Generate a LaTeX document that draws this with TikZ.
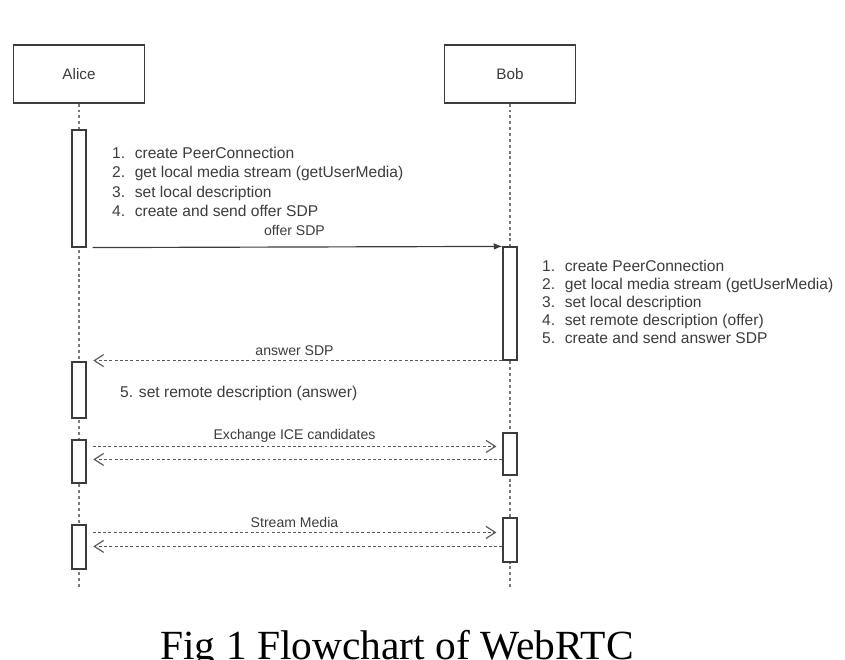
\documentclass[tikz,border=0pt]{standalone}
\usepackage{fontspec}
\setmainfont{Liberation Serif}
\setsansfont{Liberation Sans}
\usetikzlibrary{arrows.meta, positioning}
\definecolor{ink}{HTML}{3C3C3C}
\definecolor{lifegray}{HTML}{7A7A7A}
\tikzset{>={Latex[width=2mm,length=2mm]}}
\tikzset{
  actor/.style = {draw=ink, line width=1.2pt, fill=white, minimum width=3.93cm, minimum height=1.74cm,
                  font=\sffamily\fontsize{13}{15}\selectfont, text=ink},
  act/.style = {draw=ink, line width=1pt, fill=white, minimum width=0.42cm, inner sep=0pt},
  lifeline/.style = {draw=lifegray, line width=1pt, dash pattern=on 2.5pt off 2.5pt},
  call/.style = {color=ink, line width=1pt, shorten <=0.18cm, -{Latex[length=2.6mm,width=2mm]}},
  reply/.style = {color=ink!85, line width=1pt, dash pattern=on 2.5pt off 2pt,
                  -{Straight Barb[length=2.8mm,width=3.6mm]}},
  msg/.style = {above, font=\sffamily\fontsize{12}{14}\selectfont, text=ink},
  notes/.style = {anchor=west, align=left, inner sep=0pt, text=ink},
}
\newcommand\stepno[1]{\makebox[1.45em][l]{#1.}}

\begin{document}
\begin{tikzpicture}[x=0.03cm, y=-0.03cm]
  \useasboundingbox (0,0) rectangle (845,659);

  % actors and lifelines
  \node (alice) [actor] at (79,74) {Alice};
  \node (bob) [actor] at (510,74) {Bob};
  \coordinate (aliceEnd) at (79,588);
  \coordinate (bobEnd) at (510,588);
  \draw[lifeline] (alice) -- (aliceEnd);
  \draw[lifeline] (bob) -- (bobEnd);

  % activations
  \node (a1) [act, minimum height=3.51cm] at (79,188.5) {};
  \node (b1) [act, minimum height=3.39cm] at (510,303.5) {};
  \node (a2) [act, minimum height=1.68cm] at (79,390) {};
  \node (a3) [act, minimum height=1.29cm] at (79,461.5) {};
  \node (b2) [act, minimum height=1.26cm] at (510,454) {};
  \node (a4) [act, minimum height=1.32cm] at (79,547) {};
  \node (b3) [act, minimum height=1.32cm] at (510,540) {};

  % notes
  \node (aliceSteps) [notes, font=\sffamily\fontsize{13.3}{16.5}\selectfont] at (112,182)
    {\stepno{1}create PeerConnection\\
     \stepno{2}get local media stream (getUserMedia)\\
     \stepno{3}set local description\\
     \stepno{4}create and send offer SDP};
  \node (bobSteps) [notes, font=\sffamily\fontsize{13.3}{15.2}\selectfont] at (542,302)
    {\stepno{1}create PeerConnection\\
     \stepno{2}get local media stream (getUserMedia)\\
     \stepno{3}set local description\\
     \stepno{4}set remote description (offer)\\
     \stepno{5}create and send answer SDP};
  \node (aliceRemote) [notes, font=\sffamily\fontsize{13.3}{16}\selectfont] at (120,393)
    {5. set remote description (answer)};

  % messages
  \path[call]
    (a1.south east) edge node [msg, yshift=0.2cm] {offer SDP} (b1.north west);
  \path[reply]
    (b1.south west) edge [shorten >=0.2cm] node [msg] {answer SDP} (b1.south west -| a2.east)
    ([yshift=-0.21cm]a3.north east) edge [shorten <=0.18cm, shorten >=0.18cm]
      node [msg] {Exchange ICE candidates} ([yshift=-0.21cm]a3.north east -| b2.west)
    ([yshift=-0.6cm]a3.north east -| b2.west) edge [shorten >=0.2cm] ([yshift=-0.6cm]a3.north east)
    ([yshift=-0.24cm]a4.north east) edge [shorten <=0.18cm, shorten >=0.18cm]
      node [msg] {Stream Media} ([yshift=-0.24cm]a4.north east -| b3.west)
    ([yshift=-0.66cm]a4.north east -| b3.west) edge [shorten >=0.2cm] ([yshift=-0.66cm]a4.north east);

  % caption
  \node (caption) [anchor=base, font=\fontsize{35.4}{40}\selectfont] at (397,659) {Fig 1 Flowchart of WebRTC};
\end{tikzpicture}
\end{document}
